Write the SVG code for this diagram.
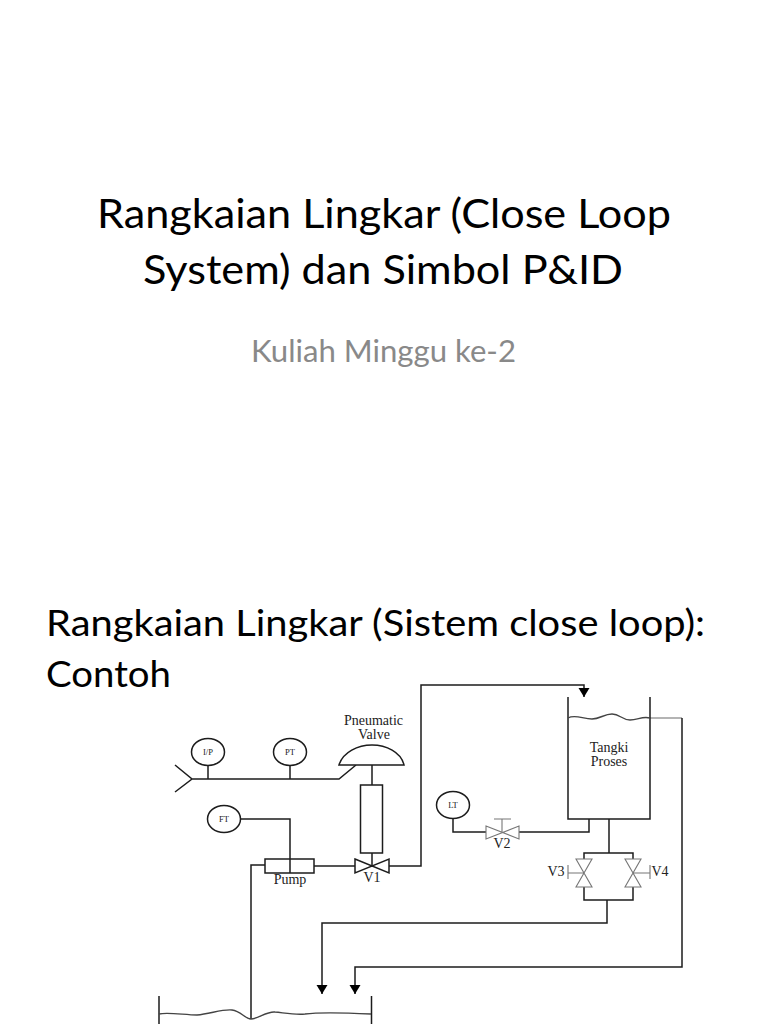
<svg xmlns="http://www.w3.org/2000/svg" width="768" height="1024" viewBox="0 0 768 1024">
<style>
.t{font-family:"Lato","Open Sans","Liberation Sans",sans-serif;fill:#000}
.s{font-family:"Liberation Serif",serif;fill:#222}
.l{fill:none;stroke:#1c1c1c;stroke-width:1.5}
.g{fill:none;stroke:#777;stroke-width:1.1}
.w{fill:none;stroke:#444;stroke-width:1.4}
.i{fill:#fff;stroke:#1c1c1c;stroke-width:1.5}
</style>
<defs><marker id="a" markerUnits="userSpaceOnUse" markerWidth="12" markerHeight="12" refX="9" refY="5.500" orient="auto"><path d="M0 0L9 5.500L0 11z" fill="#000"/></marker></defs>
<rect width="768" height="1024" fill="#fff"/>
<g id="titles">
<text class="t" x="97" y="228" font-size="40" textLength="574" lengthAdjust="spacingAndGlyphs">Rangkaian Lingkar (Close Loop</text>
<text class="t" x="143" y="284" font-size="40" textLength="480" lengthAdjust="spacingAndGlyphs">System) dan Simbol P&amp;ID</text>
<text class="t" x="251" y="362" font-size="30" textLength="265" lengthAdjust="spacingAndGlyphs" style="fill:#898989">Kuliah Minggu ke-2</text>
<text class="t" x="46" y="636" font-size="37" textLength="659" lengthAdjust="spacingAndGlyphs">Rangkaian Lingkar (Sistem close loop):</text>
<text class="t" x="46" y="687" font-size="37" textLength="125" lengthAdjust="spacingAndGlyphs">Contoh</text>
</g>
<g id="connectors">
<path class="l" d="M175 765L192 779L175 792M192 779H339L356 765"/>
<path class="l" d="M208 765V779M290 765V779"/>
<path class="l" d="M372 765V785M372 853V866"/>
<path class="l" d="M241 819H290V873"/>
<path class="l" d="M265 865H251V1019"/>
<path class="l" d="M314 866H355"/>
<path class="l" d="M389 866H421V685H584V697" marker-end="url(#a)"/>
<path class="l" d="M607 900V923H322V994" marker-end="url(#a)"/>
<path class="g" d="M650 718H682"/>
<path class="l" d="M682 718V967H355V994" marker-end="url(#a)"/>
<path class="l" d="M453 818V832H486"/>
<path class="l" d="M519 832H589V819"/>
<path class="l" d="M609 819V853M584 859V853H633V859M584 887V900H633V887"/>
</g>
<g id="ip"><ellipse class="i" cx="208" cy="752" rx="16.500" ry="13.500"/><text class="s" x="208" y="755" font-size="8.500" text-anchor="middle">I/P</text></g>
<g id="pt"><ellipse class="i" cx="290" cy="752" rx="16.500" ry="13.500"/><text class="s" x="290" y="755" font-size="8.500" text-anchor="middle">PT</text></g>
<g id="ft"><ellipse class="i" cx="224" cy="819" rx="16.500" ry="13.500"/><text class="s" x="224" y="822" font-size="8.500" text-anchor="middle">FT</text></g>
<g id="lt"><ellipse class="i" cx="453" cy="805" rx="16.500" ry="13.500"/><text class="s" x="453" y="808" font-size="8.500" text-anchor="middle">LT</text></g>
<g id="pneumatic-valve">
<text class="s" x="373.500" y="725" font-size="14" text-anchor="middle">Pneumatic</text>
<text class="s" x="374" y="739" font-size="14" text-anchor="middle">Valve</text>
<path class="i" d="M339 765C343 752 358 745 372 745C386 745 401 752 404 765Z"/>
<rect class="i" x="360.500" y="785" width="22" height="68"/>
</g>
<g id="pump"><rect class="l" x="265" y="859" width="49" height="14"/><text class="s" x="290" y="884" font-size="14" text-anchor="middle">Pump</text></g>
<g id="v1"><path class="i" d="M355 859L389 873V859L355 873Z"/><text class="s" x="372" y="882" font-size="14" text-anchor="middle">V1</text></g>
<g id="v2"><path class="g" d="M486 826L519 839V826L486 839ZM502 832V819M494 819H511"/><text class="s" x="502" y="848" font-size="14" text-anchor="middle">V2</text></g>
<g id="v3"><path class="g" d="M576 859H592L576 887H592ZM584 873H568M568 865V879"/><text class="s" x="556" y="876" font-size="14" text-anchor="middle">V3</text></g>
<g id="v4"><path class="g" d="M625 859H641L625 887H641ZM633 873H650M650 865V879"/><text class="s" x="660" y="876" font-size="14" text-anchor="middle">V4</text></g>
<g id="tangki-proses">
<path class="l" d="M568 697V819H650V697"/>
<path class="w" d="M568 718C575 714 583 719 592 719C600 719 604 714 612 714C620 714 622 720 630 720C638 720 642 716 650 718"/>
<text class="s" x="609" y="752" font-size="14" text-anchor="middle">Tangki</text>
<text class="s" x="609" y="766" font-size="14" text-anchor="middle">Proses</text>
</g>
<g id="lower-tank">
<path class="l" d="M159 996V1024M371.500 996V1024"/>
<path class="w" d="M159 1014C168 1012 185 1015 197 1015C210 1014 222 1009 232 1010C241 1011 245 1019 251 1019C258 1019 267 1011 275 1012C285 1013 295 1015 305 1014C320 1012 350 1013 371 1014"/>
</g>
</svg>
